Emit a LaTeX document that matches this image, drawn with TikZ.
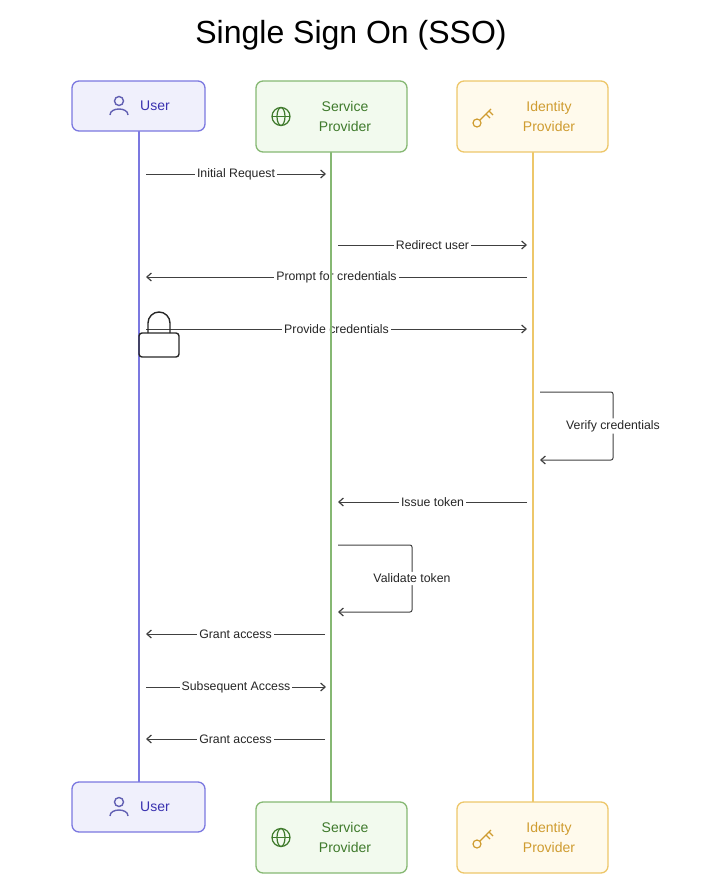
\documentclass[tikz,border=0pt]{standalone}
\usepackage{fontspec}
\setmainfont{Liberation Sans}
\usetikzlibrary{arrows.meta}
\definecolor{ubd}{HTML}{7B78E0}\definecolor{ubg}{HTML}{F0F0FC}\definecolor{utx}{HTML}{3A32B0}
\definecolor{sbd}{HTML}{86B873}\definecolor{sbg}{HTML}{F2FAEE}\definecolor{stx}{HTML}{3F7A2C}
\definecolor{ibd}{HTML}{EDC76A}\definecolor{ibg}{HTML}{FFFAEC}\definecolor{itx}{HTML}{CF9C30}
\begin{document}
\begin{tikzpicture}[x=1pt,y=-1pt,
 box/.style={draw,line width=1.3pt,rounded corners=7pt,inner sep=0pt},
 lbl/.style={font=\fontsize{14}{20}\selectfont,align=center},
 msg/.style={draw=black!75,line width=1pt,-{Straight Barb[length=4.5pt,width=8pt,line width=1.2pt]}},
 mt/.style={fill=white,inner sep=2pt,font=\fontsize{12.3}{14}\selectfont,text=black!85}]
\useasboundingbox (0,0) rectangle (702,881);
\node[font=\fontsize{32}{36}\selectfont] (title) at (351,35) {Single Sign On (SSO)};
% lifelines
\coordinate (u1) at (139,131); \coordinate (u2) at (139,782);
\coordinate (s1) at (331,152); \coordinate (s2) at (331,802);
\coordinate (i1) at (533,152); \coordinate (i2) at (533,802);
\tikzset{ul/.style={ubd,line width=1.3pt},sl/.style={sbd,line width=1.3pt},il/.style={ibd,line width=1.3pt}}
\draw[ul] (u1)--(u2);
\draw[sl] (s1)--(s2);
\draw[il] (i1)--(i2);
% boxes
\foreach \y/\n in {81/t,782/b}{
 \node[box,draw=ubd,fill=ubg,minimum width=133pt,minimum height=50pt] (user\n) at (138.5,\y+25) {};
 \node[lbl,text=utx] at (155,\y+25) {User};
 \begin{scope}[ubd!80!black,line width=1.4pt]
  \draw (119,\y+20) circle (4.5pt);
  \draw (110,\y+34) .. controls (110,\y+26) and (128,\y+26) .. (128,\y+34);
 \end{scope}}
\foreach \y/\n in {81/t,802/b}{
 \node[box,draw=sbd,fill=sbg,minimum width=151pt,minimum height=71pt] (sp\n) at (331.5,\y+35.5) {};
 \node[lbl,text=stx] at (345,\y+35.5) {Service\\Provider};
 \begin{scope}[stx,line width=1.2pt]
  \draw (281,\y+35.5) circle (9pt);
  \draw (281,\y+35.5) ellipse (4pt and 9pt);
  \draw (272,\y+35.5)--(290,\y+35.5);
 \end{scope}
 \node[box,draw=ibd,fill=ibg,minimum width=151pt,minimum height=71pt] (idp\n) at (532.5,\y+35.5) {};
 \node[lbl,text=itx] at (549,\y+35.5) {Identity\\Provider};
 \begin{scope}[itx,line width=1.2pt]
  \draw (477,\y+42) circle (4pt);
  \draw (480,\y+39)--(491,\y+28);
  \draw (486,\y+33)--(490,\y+37); \draw (489,\y+30)--(493,\y+34);
 \end{scope}}
% messages
\coordinate (a1) at (146,174); \coordinate (b1) at (326,174);
\draw[msg] (a1)--node[mt]{Initial Request}(b1);
\coordinate (a2) at (338,245); \coordinate (b2) at (527,245);
\draw[msg] (a2)--node[mt]{Redirect user}(b2);
\coordinate (a3) at (527,277); \coordinate (b3) at (146,277);
\draw[msg] (a3)--node[mt]{Prompt for credentials}(b3);
\coordinate (a4) at (146,329); \coordinate (b4) at (527,329);
\draw[msg] (a4)--node[mt]{Provide credentials}(b4);
\draw[sl] (331,268)--(331,286); \draw[sl] (331,320)--(331,338);
% lock
\draw[black!85,line width=1.4pt,rounded corners=3pt] (139,333) rectangle (179,357);
\draw[black!85,line width=1.4pt] (148,333)--(148,323) arc(180:0:11pt)--(170,333);
% verify loop
\coordinate (v1) at (540,392); \coordinate (v2) at (540,460);
\draw[msg,rounded corners=2pt] (v1)--(613,392)--node[mt,pos=0.5]{Verify credentials}(613,460)--(v2);
\coordinate (a5) at (527,502); \coordinate (b5) at (338,502);
\draw[msg] (a5)--node[mt]{Issue token}(b5);
\coordinate (w1) at (338,545); \coordinate (w2) at (338,612);
\draw[msg,rounded corners=2pt] (w1)--(412,545)--node[mt]{Validate token}(412,612)--(w2);
\coordinate (a6) at (325,634); \coordinate (b6) at (146,634);
\draw[msg] (a6)--node[mt]{Grant access}(b6);
\coordinate (a7) at (146,687); \coordinate (b7) at (326,687);
\draw[msg] (a7)--node[mt]{Subsequent Access}(b7);
\coordinate (a8) at (325,739); \coordinate (b8) at (146,739);
\draw[msg] (a8)--node[mt]{Grant access}(b8);
\end{tikzpicture}
\end{document}
